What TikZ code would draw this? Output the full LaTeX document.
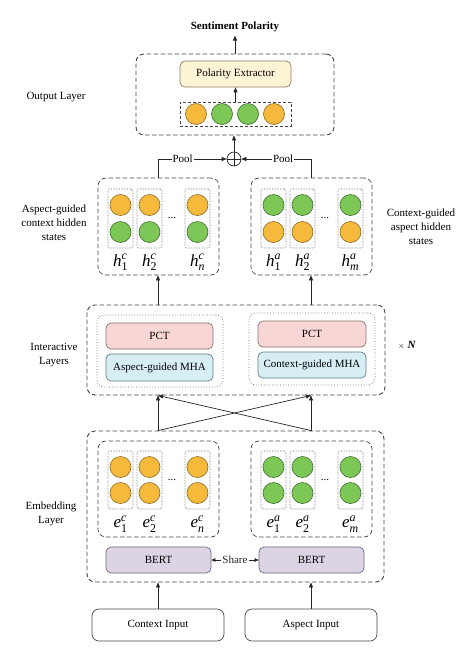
\documentclass[tikz,border=0pt]{standalone}
\usepackage{fontspec}
\setmainfont{Liberation Serif}
\usepackage{amsmath}
\usetikzlibrary{arrows.meta,calc}
\definecolor{orf}{HTML}{F6B93B}
\definecolor{ord}{HTML}{8A6A20}
\definecolor{grf}{HTML}{7CC756}
\definecolor{grd}{HTML}{3D6E2A}
\definecolor{pef}{HTML}{FDF3D5}
\definecolor{ped}{HTML}{8B7D5B}
\definecolor{pcf}{HTML}{F7D6D5}
\definecolor{pcd}{HTML}{8F6F6F}
\definecolor{mhf}{HTML}{D7EEF4}
\definecolor{mhd}{HTML}{5F7F85}
\definecolor{bef}{HTML}{DCD4E4}
\definecolor{bed}{HTML}{6F6A78}
\definecolor{dsh}{HTML}{444444}
\newcommand{\mlab}[3]{$\text{\itshape #1}_{\text{#2}}^{\text{\itshape #3}}$}
\begin{document}
\begin{tikzpicture}[x=1pt,y=-1pt,
  every node/.style={font=\fontsize{11}{13}\selectfont},
  obox/.style={draw=dsh, line width=0.9pt, dash pattern=on 4.5pt off 2.5pt, rounded corners=8pt, rectangle, inner sep=0pt},
  ibox/.style={draw=black!60, line width=0.7pt, dotted, rounded corners=7pt, rectangle, inner sep=0pt},
  colbox/.style={draw=black!60, line width=0.6pt, densely dotted, rounded corners=2pt, rectangle, inner sep=0pt, minimum width=25pt, minimum height=58pt},
  fbox/.style={rectangle, rounded corners=5pt, line width=0.7pt, inner sep=0pt},
  ocirc/.style={circle, draw=ord, fill=orf, line width=0.6pt, minimum size=21pt, inner sep=0pt},
  gcirc/.style={circle, draw=grd, fill=grf, line width=0.6pt, minimum size=21pt, inner sep=0pt},
  arr/.style={draw=black!85, line width=0.7pt, -{Triangle[length=5pt,width=4pt]}},
  lbl/.style={align=center, font=\fontsize{11}{14}\selectfont},
  hl/.style={font=\fontsize{17}{17}\selectfont, inner sep=0pt}
]
\useasboundingbox (0,0) rectangle (474,657);

% ---------- Output layer ----------
\node[font=\fontsize{11}{13}\selectfont\bfseries] (title) at (235,27) {Sentiment Polarity};
\node[obox, minimum width=198pt, minimum height=81pt] (out) at (235,94.5) {};
\node[fbox, draw=ped, fill=pef, minimum width=111pt, minimum height=26pt] (pe) at (235.5,74) {Polarity Extractor};
\node[draw=dsh, line width=0.7pt, dash pattern=on 3pt off 2pt, rectangle, inner sep=0pt, minimum width=111pt, minimum height=24pt] (pbox) at (235.5,114) {};
\node[ocirc] (p1) at (196,114) {};
\node[gcirc] (p2) at (222,114) {};
\node[gcirc] (p3) at (248,114) {};
\node[ocirc] (p4) at (274,114) {};
\node[lbl] (outl) at (56,97) {Output Layer};
\draw[arr] (pbox.north) -- (pe.south);
\draw[arr] (out.north -| title) -- (title.south);

% ---------- oplus ----------
\node[circle, draw=black!85, line width=0.7pt, minimum size=14pt, inner sep=0pt] (op) at (234,159) {};
\draw[black!85, line width=0.6pt] (op.north) -- (op.south) (op.west) -- (op.east);
\draw[arr] (op.north) -- (out.south -| op);

% ---------- Input ----------
\node[fbox, draw=black!70, fill=white, rounded corners=7pt, minimum width=132pt, minimum height=32pt] (cin) at (158,625) {Context Input};
\node[fbox, draw=black!70, fill=white, rounded corners=7pt, minimum width=132pt, minimum height=32pt] (ain) at (311,625) {Aspect Input};

% ---------- Embedding layer ----------
\node[obox, minimum width=297pt, minimum height=151pt] (emb) at (235.5,506.5) {};
\node[obox, line width=0.7pt, minimum width=121pt, minimum height=96pt] (ecb) at (158.5,489) {};
\node[obox, line width=0.7pt, minimum width=121pt, minimum height=96pt] (eab) at (311.5,489) {};
\node[fbox, draw=bed, fill=bef, minimum width=105pt, minimum height=26pt] (b1) at (158.5,560) {BERT};
\node[fbox, draw=bed, fill=bef, minimum width=105pt, minimum height=26pt] (b2) at (311.5,560) {BERT};
\draw[line width=0.6pt, black!85, {Triangle[length=4pt,width=3.5pt]}-{Triangle[length=4pt,width=3.5pt]}] (b1.east) -- node[fill=white, inner sep=1pt] (share) {Share} (b2.east -| b2.west);
\node[lbl] (embl) at (51,514) {Embedding\\Layer};
\foreach \n/\x/\s in {1/120.5/1, 2/149.5/2, 3/197.5/\itshape n} {
  \node[colbox] (ecc\n) at (\x,480) {};
  \node[ocirc] (ect\n) at (\x,467) {};
  \node[ocirc] (ecm\n) at (\x,493) {};
  \node[hl] (ecl\n) at (\x,524) {\mlab{e}{\s}{c}};
}
\foreach \n/\x/\s in {1/273.5/1, 2/302.5/2, 3/350.5/\itshape m} {
  \node[colbox] (eac\n) at (\x,480) {};
  \node[gcirc] (eat\n) at (\x,467) {};
  \node[gcirc] (eam\n) at (\x,493) {};
  \node[hl] (eal\n) at (\x,524) {\mlab{e}{\s}{a}};
}
\node (ed1) at (172,480) {...};
\node (ed2) at (325,480) {...};
\draw[arr] (cin.north) -- (cin.north |- emb.south);
\draw[arr] (ain.north) -- (ain.north |- emb.south);

% ---------- Interactive layers ----------
\node[obox, minimum width=298pt, minimum height=90pt] (inter) at (236,350) {};
\node[ibox, minimum width=126pt, minimum height=72pt] (il) at (160,351) {};
\node[ibox, minimum width=126pt, minimum height=72pt] (ir) at (312,349) {};
\node[fbox, draw=pcd, fill=pcf, minimum width=107pt, minimum height=26pt] (pct1) at (159.5,336) {PCT};
\node[fbox, draw=mhd, fill=mhf, minimum width=107pt, minimum height=27pt] (mha1) at (159.5,367.5) {Aspect-guided MHA};
\node[fbox, draw=pcd, fill=pcf, minimum width=108pt, minimum height=26pt] (pct2) at (312,334) {PCT};
\node[fbox, draw=mhd, fill=mhf, minimum width=108pt, minimum height=26pt] (mha2) at (312,365) {Context-guided MHA};
\node[lbl] (intl) at (54,355) {Interactive\\Layers};
\node (xn) at (407,345) {{\fontsize{8}{8}\selectfont$\times$}\ \textbf{\itshape N}};
\draw[arr] (emb.north -| cin) -- (inter.south -| cin);
\draw[arr] (emb.north -| ain) -- (inter.south -| ain);
\draw[arr] (emb.north -| cin) -- (inter.south -| ain);
\draw[arr] (emb.north -| ain) -- (inter.south -| cin);

% ---------- Hidden states ----------
\node[obox, line width=0.7pt, minimum width=121pt, minimum height=97pt] (hcb) at (158.5,226.5) {};
\node[obox, line width=0.7pt, minimum width=121pt, minimum height=97pt] (hab) at (311.5,226.5) {};
\foreach \n/\x/\s in {1/120.5/1, 2/149.5/2, 3/197.5/\itshape n} {
  \node[colbox, minimum height=59pt] (hcc\n) at (\x,218.5) {};
  \node[ocirc] (hct\n) at (\x,205) {};
  \node[gcirc] (hcm\n) at (\x,232) {};
  \node[hl] (hcl\n) at (\x,262) {\mlab{h}{\s}{c}};
}
\foreach \n/\x/\s in {1/273.5/1, 2/302.5/2, 3/350.5/\itshape m} {
  \node[colbox, minimum height=59pt] (hac\n) at (\x,218.5) {};
  \node[gcirc] (hat\n) at (\x,205) {};
  \node[ocirc] (ham\n) at (\x,232) {};
  \node[hl] (hal\n) at (\x,262) {\mlab{h}{\s}{a}};
}
\node (hd1) at (172,218) {...};
\node (hd2) at (325,218) {...};
\node[lbl] (hcl) at (54,223) {Aspect-guided\\context hidden\\states};
\node[lbl] (hal) at (421,227) {Context-guided\\aspect hidden\\states};
\draw[arr] (inter.north -| cin) -- (hcb.south -| cin);
\draw[arr] (inter.north -| ain) -- (hab.south -| ain);

% ---------- Pool ----------
\draw[arr] (hcb.north -| cin) |- node[pos=0.68, fill=white, inner sep=1pt] (pool1) {Pool} (op.west);
\draw[arr] (hab.north -| ain) |- node[pos=0.7, fill=white, inner sep=1pt] (pool2) {Pool} (op.east);
\end{tikzpicture}
\end{document}
